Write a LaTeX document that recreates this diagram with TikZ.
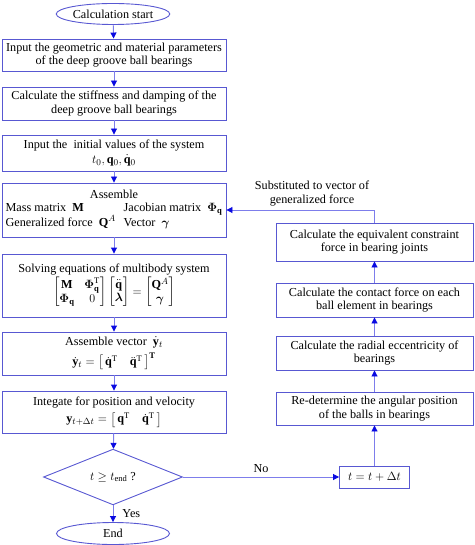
\documentclass[tikz,border=0pt]{standalone}
\usepackage{amsmath,amssymb,bm}
\usepackage{fontspec}
\setmainfont{Liberation Serif}
\usetikzlibrary{arrows.meta,shapes.geometric}

\definecolor{boxblue}{RGB}{88,88,210}
\definecolor{lineblue}{RGB}{125,125,235}
\definecolor{tipblue}{RGB}{10,10,225}

\begin{document}
\begin{tikzpicture}[x=1pt,y=-1pt]

\tikzset{
  blk/.style   = {draw=boxblue, line width=0.9pt, inner sep=1pt, align=center,
                  font=\fontsize{12.2}{13.5}\selectfont},
  lbox/.style  = {blk, minimum width=224pt},
  rbox/.style  = {blk, minimum width=197pt},
  term/.style  = {blk, ellipse, inner sep=0pt, minimum width=113pt, minimum height=21pt},
  test/.style  = {blk, diamond, inner sep=0pt, minimum width=139pt, minimum height=52pt},
  flow/.style  = {-{Triangle[length=6pt,width=6pt,color=tipblue]}, draw=lineblue,
                  line width=0.9pt},
  lbl/.style   = {font=\fontsize{12.2}{13.5}\selectfont, inner sep=1pt},
}

\useasboundingbox (0,0) rectangle (474,545);

% main column
\node[term] (start) at (113,14) {Calculation start};
\node[lbox, minimum height=32pt] (inpar) at (114,55) {Input the geometric and material parameters\\of the deep groove ball bearings};
\node[lbox, minimum height=33pt] (stiff) at (114,103.5) {Calculate the stiffness and damping of the\\deep groove ball bearings};
\node[lbox, minimum height=36pt] (init) at (114,153) {Input the\ \ initial values of the system\\[1pt]$t_0,\mathbf{q}_0,\dot{\mathbf{q}}_0$};
\node[lbox, minimum height=54pt] (asm) at (114,210) {Assemble\\
  \begin{tabular}[t]{@{}l@{\hspace{8pt}}l@{}}
  Mass matrix\ \ $\mathbf{M}$ & Jacobian matrix\ \ $\bm{\Phi}_{\mathbf{q}}$\\
  Generalized force\ \ $\mathbf{Q}^{A}$ & Vector\ \ $\bm{\gamma}$
  \end{tabular}};
\node[lbox, minimum height=63pt] (solve) at (114,285.5) {Solving equations of multibody system\\[1pt]
  $\begin{bmatrix}\mathbf{M} & \bm{\Phi}_{\mathbf{q}}^{\mathrm{T}}\\ \bm{\Phi}_{\mathbf{q}} & 0\end{bmatrix}
   \begin{bmatrix}\ddot{\mathbf{q}}\\ \bm{\lambda}\end{bmatrix}=
   \begin{bmatrix}\mathbf{Q}^{A}\\ \bm{\gamma}\end{bmatrix}$};
\node[lbox, minimum height=43pt] (asvec) at (114,353.5) {Assemble vector\ \ $\dot{\mathbf{y}}_t$\\[4pt]
  $\dot{\mathbf{y}}_t=\bigl[\,\dot{\mathbf{q}}^{\mathrm{T}}\quad\ddot{\mathbf{q}}^{\mathrm{T}}\,\bigr]^{\mathbf{T}}$};
\node[lbox, minimum height=42pt] (integ) at (114,412) {Integate for position and velocity\\[4pt]
  $\mathbf{y}_{t+\Delta t}=\bigl[\,\mathbf{q}^{\mathrm{T}}\quad\dot{\mathbf{q}}^{\mathrm{T}}\,\bigr]$};
\node[test] (check) at (113,477) {$t\ge t_{\mathrm{end}}$ ?};
\node[term, minimum height=22pt] (stop) at (113,533.5) {End};

% bearing column
\node[rbox, minimum height=38pt] (equiv) at (374.5,242) {Calculate the equivalent constraint\\force in bearing joints};
\node[rbox, minimum height=34pt] (contact) at (374.5,300) {Calculate the contact force on each\\ball element in bearings};
\node[rbox, minimum height=34pt] (ecc) at (374.5,353) {Calculate the radial eccentricity of\\bearings};
\node[rbox, minimum height=33pt] (redet) at (374.5,408.5) {Re-determine the angular position\\of the balls in bearings};
\node[blk, minimum width=70pt, minimum height=22pt] (step) at (374.5,477) {$t=t+\Delta t$};

\draw[flow] (start) -- (inpar);
\draw[flow] (inpar) -- (stiff);
\draw[flow] (stiff) -- (init);
\draw[flow] (init) -- (asm);
\draw[flow] (asm) -- (solve);
\draw[flow] (solve) -- (asvec);
\draw[flow] (asvec) -- (integ);
\draw[flow] (integ) -- (check);
\draw[flow] (check) -- (stop) node[lbl, midway, right=8pt] {Yes};
\draw[flow] (check) -- (step) node[lbl, midway, above=3pt] {No};
\draw[flow] (step) -- (redet);
\draw[flow] (redet) -- (ecc);
\draw[flow] (ecc) -- (contact);
\draw[flow] (contact) -- (equiv);
\draw[flow] (equiv.north) |- (asm.east);
\node[lbl, align=center, anchor=south] (subst) at (312,207) {Substituted to vector of\\generalized force};
\end{tikzpicture}
\end{document}
